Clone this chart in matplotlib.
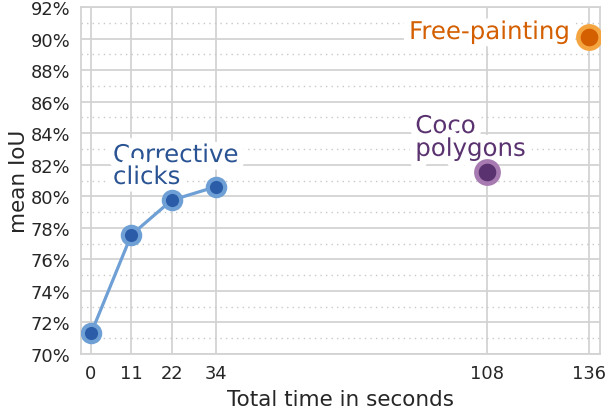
import matplotlib
matplotlib.use("Agg")
import matplotlib.pyplot as plt
import matplotlib.patheffects as pe
from matplotlib.ticker import FixedLocator, MultipleLocator, FuncFormatter

# Data
corr_time = [0, 11, 22, 34]
corr_iou = [71.3, 77.55, 79.75, 80.6]
coco_time = [108]
coco_iou = [81.55]
free_time = [136]
free_iou = [90.08]
xticks = [0, 11, 22, 34, 108, 136]

fig = plt.figure(figsize=(6.06, 4.10), dpi=100)
ax = fig.add_axes([81/606, 55/410, 519/606, 347/410])

grid_c = "#d3d3d3"
ax.set_xlim(-2.73, 138.9)
ax.set_ylim(70, 92)
ax.xaxis.set_major_locator(FixedLocator(xticks))
ax.yaxis.set_major_locator(MultipleLocator(2))
ax.yaxis.set_minor_locator(MultipleLocator(1))
ax.yaxis.set_major_formatter(FuncFormatter(lambda v, p: f"{v:.0f}%"))
ax.grid(True, which="major", color=grid_c, lw=1.3, ls="-")
ax.grid(True, which="minor", axis="y", color="#c8c8c8", lw=1.0, ls=(0, (1, 3)))
ax.set_axisbelow(True)
for s in ax.spines.values():
    s.set_color(grid_c)
    s.set_linewidth(1.3)
ax.tick_params(which="both", length=0, labelsize=12.9, colors="#262626")
ax.tick_params(axis="y", pad=7.5)
ax.tick_params(axis="x", pad=7)
ax.set_xlabel("Total time in seconds", fontsize=15.5, color="#262626", labelpad=5.5)
ax.set_ylabel("mean IoU", fontsize=15.5, color="#262626", labelpad=1)

ax.plot(corr_time, corr_iou, "-", color="#6e9fd5", lw=2.3, zorder=6)
ax.plot(corr_time, corr_iou, "o", ms=12.5, mfc="#2b5ca8", mec="#6e9fd5", mew=3, zorder=7)
ax.plot(coco_time, coco_iou, "o", ms=16, mfc="#5a3270", mec="#a77bb2", mew=3.3, zorder=7)
ax.plot(free_time, free_iou, "o", ms=16, mfc="#d45f00", mec="#f5a540", mew=3.3, zorder=7)

halo = [pe.withStroke(linewidth=11, foreground="white")]
def label(x, y, s, c, ha="left"):
    ax.text(x, y, s, color=c, fontsize=17.6, ha=ha, va="baseline",
            path_effects=halo, zorder=5)

label(6.0, 82.17, "Corrective", "#2a5393")
label(6.0, 80.78, "clicks", "#2a5393")
label(88.5, 84.01, "Coco", "#5a3270")
label(88.5, 82.56, "polygons", "#5a3270")
label(130.8, 89.97, "Free-painting", "#d45f00", ha="right")

fig.savefig("out.png", dpi=100)
